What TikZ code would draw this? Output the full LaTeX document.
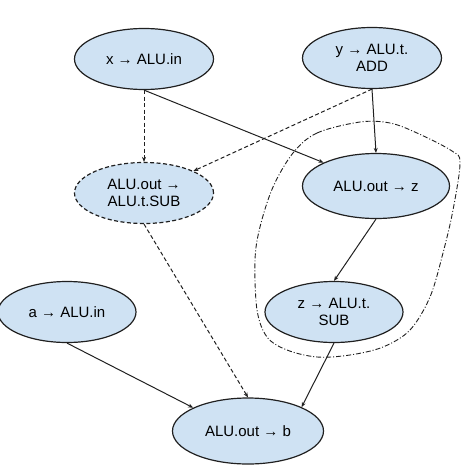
\documentclass[tikz,border=0pt]{standalone}
\usepackage{fontspec}
\setmainfont{Liberation Sans}
\usetikzlibrary{shapes.geometric,arrows.meta}
\definecolor{nodefill}{HTML}{CFE2F3}
\definecolor{edgecol}{HTML}{202020}
\tikzset{
  ell/.style={ellipse, draw=edgecol, line width=1.2pt, fill=nodefill, inner sep=0pt,
    align=center, font=\fontsize{15}{17}\selectfont},
  conn/.style={draw=edgecol, line width=1pt, -{Stealth[length=5pt,width=4pt]}},
  dconn/.style={conn, dash pattern=on 4pt off 2.5pt},
  grp/.style={draw=edgecol, line width=0.9pt, dash pattern=on 5pt off 2pt on 1pt off 2pt}
}
\begin{document}
\begin{tikzpicture}[x=1pt,y=-1pt]
\useasboundingbox (0,0) rectangle (474,474);
\node[ell, minimum width=139pt, minimum height=61pt] (x) at (144,59) {x → ALU.in};
\node[ell, minimum width=139pt, minimum height=61pt] (y) at (372,58) {y → ALU.t.\\ADD};
\node[ell, minimum width=139pt, minimum height=61pt, dash pattern=on 4pt off 2.5pt] (sub) at (144,193) {ALU.out →\\ALU.t.SUB};
\node[ell, minimum width=147pt, minimum height=65pt] (z) at (376,186) {ALU.out → z};
\node[ell, minimum width=138pt, minimum height=61pt] (a) at (67,312) {a → ALU.in};
\node[ell, minimum width=138pt, minimum height=61pt] (zsub) at (334,312) {z → ALU.t.\\SUB};
\node[ell, minimum width=151pt, minimum height=66pt] (b) at (248,431) {ALU.out → b};

\draw[grp] plot[smooth cycle, tension=0.55] coordinates {
  (360,122) (317,133) (293,153) (273,187) (260,227) (255,260) (257,310)
  (267,337) (287,350) (317,357) (350,355) (383,347) (410,330) (430,297)
  (443,253) (453,210) (460,163) (452,151) (417,133) (390,123)};

\draw[dconn] (x.south) -- (sub.north);
\draw[conn] (x.south) -- (z.156);
\draw[conn] (y.south) -- (z.north);
\draw[dconn] (y.south) -- (sub.24);
\draw[conn] (z.south) -- (zsub.north);
\draw[dconn] (sub.south) -- (b.north);
\draw[conn] (a.south) -- (b.157);
\draw[conn] (zsub.south) -- (b.24);
\end{tikzpicture}
\end{document}
